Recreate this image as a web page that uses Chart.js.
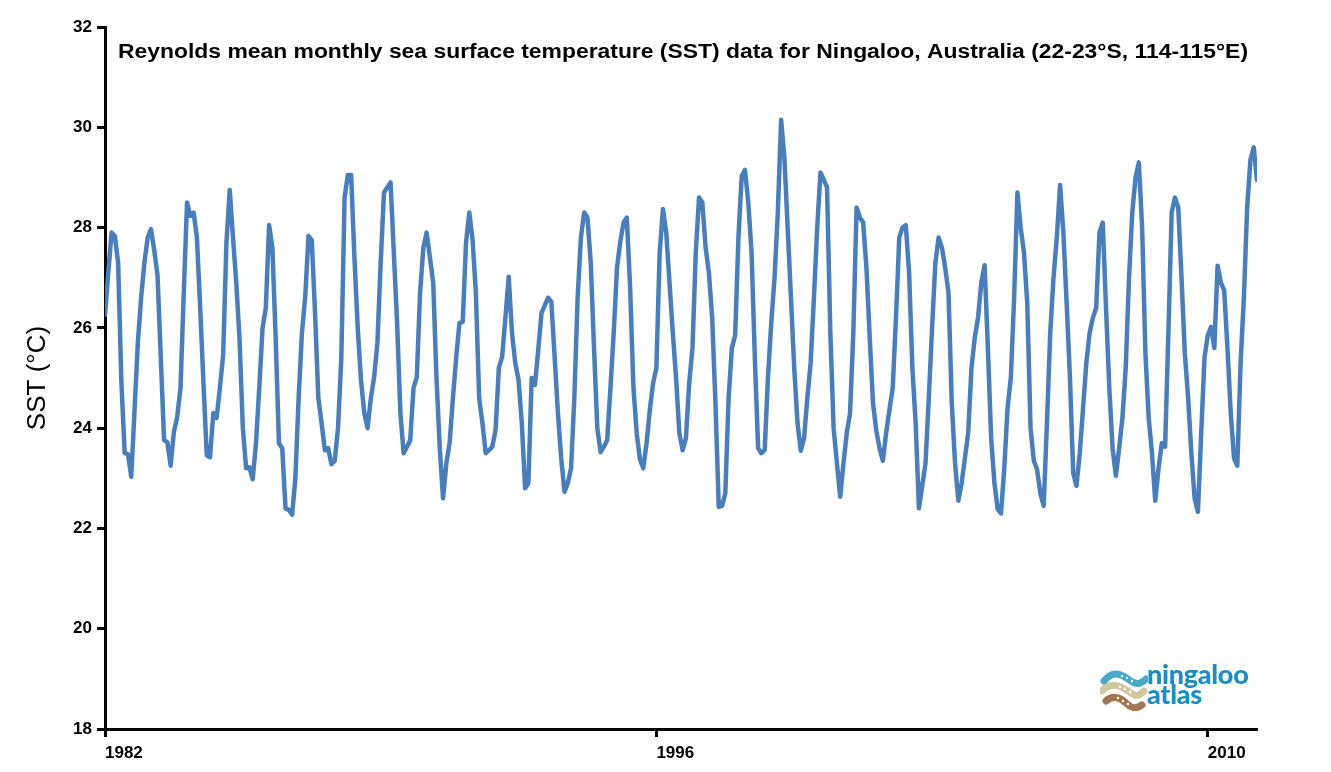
<!DOCTYPE html>
<html>
<head>
<meta charset="utf-8">
<title>Ningaloo SST</title>
<script src="https://cdn.jsdelivr.net/npm/chart.js@4.4.1/dist/chart.umd.min.js"></script>
<style>
    html, body { margin: 0; padding: 0; background: #fff; }
    #wrap { position: relative; width: 1331px; height: 772px; }
    #logo { position: absolute; left: 1100px; top: 663px; width: 160px; height: 50px; }
    #logo svg { position: absolute; left: 0; top: 6px; }
    #logo .txt { position: absolute; left: 47px; top: 1px; font-family: Lato, Arial, sans-serif; font-weight: 900; font-size: 27px; line-height: 20px; color: #1d8ec2; letter-spacing: -0.3px; }
</style>
</head>
<body>
<div id="wrap">
    <canvas id="sstChart" width="1331" height="772"></canvas>
    <div id="logo">
        <svg width="48" height="42" viewBox="0 0 48 42">
            <path d="M4 12 C12 2, 20 4, 28 10 S40 16, 46 10" stroke="#4aa9c6" stroke-width="7" fill="none" stroke-linecap="round"/>
            <path d="M2 22 C10 13, 20 16, 28 22 S38 28, 44 22" stroke="#cfc8a0" stroke-width="7" fill="none" stroke-linecap="round"/>
            <path d="M6 32 C12 26, 20 28, 26 34 S36 40, 42 36" stroke="#a27650" stroke-width="7" fill="none" stroke-linecap="round"/>
            <g fill="#fff">
                <circle cx="22" cy="7" r="1.2"/><circle cx="27" cy="9" r="1.2"/><circle cx="32" cy="12" r="1.2"/>
                <circle cx="20" cy="18" r="1.2"/><circle cx="25" cy="20" r="1.2"/><circle cx="30" cy="23" r="1.2"/>
                <circle cx="18" cy="29" r="1.2"/><circle cx="23" cy="32" r="1.2"/><circle cx="28" cy="35" r="1.2"/>
            </g>
        </svg>
        <div class="txt">ningaloo<br>atlas</div>
    </div>
</div>
<script>
// Reynolds monthly SST, Ningaloo (22-23°S, 114-115°E), Jan 1982 onwards
const startYear = 1982;
const sstValues = [
    26.26, 27.1, 27.9, 27.83, 27.3, 24.9, 23.5, 23.48, 23.03, 24.36, 25.7, 26.6,
    27.3, 27.8, 27.97, 27.55, 27.05, 25.4, 23.76, 23.72, 23.25, 23.93, 24.22, 24.8,
    26.7, 28.5, 28.23, 28.3, 27.8, 26.4, 24.9, 23.46, 23.42, 24.3, 24.2, 24.8,
    25.46, 27.7, 28.75, 27.8, 26.9, 25.76, 24.0, 23.2, 23.22, 22.98, 23.7, 24.8,
    26.0, 26.4, 28.05, 27.6, 25.8, 23.7, 23.6, 22.4, 22.37, 22.27, 23.0, 24.6,
    25.9, 26.62, 27.83, 27.75, 26.3, 24.6, 24.1, 23.56, 23.6, 23.28, 23.35, 24.0,
    25.4, 28.6, 29.05, 29.05, 27.4, 26.0, 24.96, 24.3, 24.0, 24.6, 25.02, 25.7,
    27.3, 28.7, 28.8, 28.9, 27.5, 26.1, 24.3, 23.5, 23.63, 23.76, 24.8, 25.02,
    26.7, 27.6, 27.9, 27.4, 26.9, 25.0, 23.6, 22.6, 23.3, 23.7, 24.6, 25.4,
    26.1, 26.12, 27.7, 28.3, 27.75, 26.7, 24.6, 24.1, 23.5, 23.56, 23.63, 23.96,
    25.2, 25.42, 26.2, 27.02, 25.9, 25.3, 24.96, 24.1, 22.8, 22.9, 25.0, 24.86,
    25.56, 26.3, 26.45, 26.6, 26.52, 25.42, 24.3, 23.4, 22.73, 22.9, 23.2, 24.6,
    26.6, 27.8, 28.3, 28.2, 27.3, 25.6, 24.0, 23.52, 23.63, 23.76, 24.8, 25.9,
    27.2, 27.72, 28.1, 28.2, 26.8, 24.82, 23.9, 23.37, 23.2, 23.7, 24.36, 24.9,
    25.2, 27.5, 28.37, 27.9, 26.9, 25.9, 25.0, 23.9, 23.56, 23.8, 24.9, 25.6,
    27.5, 28.6, 28.5, 27.6, 27.1, 26.2, 24.5, 22.43, 22.45, 22.7, 24.6, 25.6,
    25.85, 27.8, 29.03, 29.15, 28.5, 27.5, 25.4, 23.6, 23.5, 23.56, 25.02, 26.1,
    27.0, 28.3, 30.15, 29.4, 28.0, 26.6, 25.2, 24.1, 23.55, 23.8, 24.6, 25.3,
    26.6, 28.0, 29.1, 28.95, 28.8, 25.9, 24.0, 23.3, 22.63, 23.3, 23.9, 24.3,
    25.9, 28.4, 28.2, 28.1, 27.2, 25.8, 24.5, 23.95, 23.6, 23.35, 23.9, 24.36,
    24.8, 26.2, 27.8, 28.0, 28.05, 27.1, 25.2, 24.1, 22.4, 22.85, 23.3, 24.6,
    26.0, 27.3, 27.8, 27.6, 27.2, 26.7, 24.5, 23.3, 22.55, 22.9, 23.4, 23.9,
    25.2, 25.8, 26.2, 26.9, 27.25, 25.6, 23.8, 22.9, 22.38, 22.3, 23.2, 24.4,
    25.0, 26.6, 28.7, 28.0, 27.5, 26.5, 24.0, 23.35, 23.17, 22.7, 22.45, 24.1,
    25.9, 27.0, 27.8, 28.85, 27.9, 26.5, 25.02, 23.1, 22.85, 23.5, 24.4, 25.3,
    25.9, 26.2, 26.4, 27.9, 28.1, 26.4, 24.8, 23.6, 23.05, 23.6, 24.2, 25.2,
    27.0, 28.3, 29.0, 29.3, 28.0, 25.5, 24.2, 23.5, 22.55, 23.2, 23.7, 23.63,
    25.9, 28.3, 28.6, 28.4, 27.0, 25.5, 24.62, 23.5, 22.6, 22.33, 23.9, 25.4,
    25.85, 26.02, 25.6, 27.24, 26.9, 26.75, 25.6, 24.3, 23.4, 23.25, 25.3, 26.6,
    28.4, 29.35, 29.6, 28.95
];
const tickYears = [1982, 1996, 2010];
const yMin = 18, yMax = 32, yStep = 2;
const chartTitle = 'Reynolds mean monthly sea surface temperature (SST) data for Ningaloo, Australia (22-23°S, 114-115°E)';

const lastYear = startYear + (sstValues.length - 1) / 12;
const points = sstValues.map((v, i) => ({ x: startYear + i / 12, y: v }));

// title sits inside the plot area, top-left; the original lettering is a bit wide
const titleInside = {
    id: 'titleInside',
    afterDraw(chart) {
        const ctx = chart.ctx;
        const area = chart.chartArea;
        const targetWidth = 1130;
        ctx.save();
        ctx.font = 'bold 20px Arial, "Liberation Sans", sans-serif';
        ctx.fillStyle = '#000';
        ctx.textBaseline = 'alphabetic';
        ctx.textAlign = 'left';
        const w = ctx.measureText(chartTitle).width;
        ctx.translate(area.left + 13, area.top + 31);
        ctx.scale(targetWidth / w, 1);
        ctx.fillText(chartTitle, 0, 0);
        ctx.restore();
    }
};

const ctx = document.getElementById('sstChart').getContext('2d');
new Chart(ctx, {
    type: 'line',
    data: {
        datasets: [{
            label: 'SST',
            data: points,
            borderColor: '#4a7ebb',
            borderWidth: 4.5,
            borderJoinStyle: 'round',
            borderCapStyle: 'round',
            pointRadius: 0,
            tension: 0,
            fill: false
        }]
    },
    options: {
        responsive: false,
        animation: false,
        layout: { padding: { top: 27, right: 74, left: 0, bottom: 0 } },
        plugins: {
            legend: { display: false },
            tooltip: { enabled: false },
            title: { display: false }
        },
        scales: {
            x: {
                type: 'linear',
                min: startYear,
                max: lastYear,
                afterBuildTicks: (scale) => {
                    scale.ticks = tickYears.map(v => ({ value: v }));
                },
                afterFit: (scale) => { scale.height = 43; },
                grid: { display: true, drawOnChartArea: false, tickLength: 8, tickWidth: 3, tickColor: '#000' },
                border: { display: true, color: '#000', width: 3 },
                ticks: {
                    align: 'start',
                    padding: 6,
                    color: '#000',
                    font: { family: 'Arial, "Liberation Sans", sans-serif', size: 17, weight: 'bold' },
                    callback: (v) => String(v)
                }
            },
            y: {
                min: yMin,
                max: yMax,
                afterFit: (scale) => { scale.width = 105; },
                grid: { display: true, drawOnChartArea: false, tickLength: 8, tickWidth: 3, tickColor: '#000' },
                border: { display: true, color: '#000', width: 3 },
                ticks: {
                    stepSize: yStep,
                    padding: 5,
                    color: '#000',
                    font: { family: 'Arial, "Liberation Sans", sans-serif', size: 17, weight: 'bold' }
                },
                title: {
                    display: true,
                    text: 'SST (°C)',
                    color: '#000',
                    padding: { top: 22, bottom: 0 },
                    font: { family: 'Arial, "Liberation Sans", sans-serif', size: 26, weight: 'normal' }
                }
            }
        }
    },
    plugins: [titleInside]
});
</script>
</body>
</html>
